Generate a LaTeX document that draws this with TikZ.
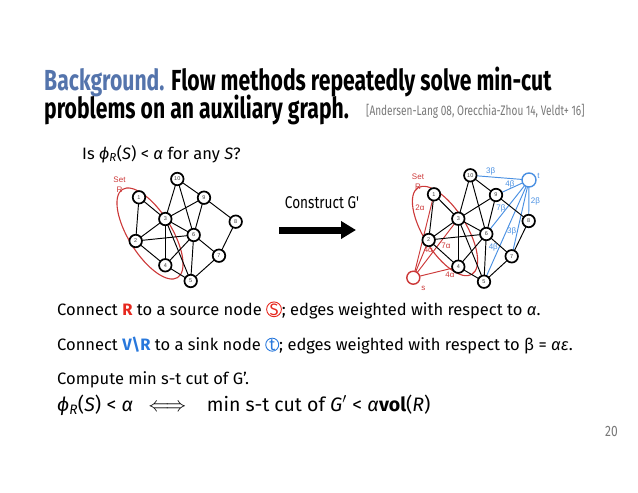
\documentclass[tikz,border=0pt]{standalone}
\usepackage{fontspec}
\setmainfont{Fira Sans}
\newfontfamily\titlefont[FakeStretch=0.73]{Fira Sans}
\newfontfamily\condfont[FakeStretch=0.8]{Fira Sans}
\newfontfamily\arialfont{Liberation Sans}
\usetikzlibrary{arrows.meta}
\definecolor{titleblue}{RGB}{84,116,172}
\definecolor{cutred}{RGB}{204,56,56}
\definecolor{sinkblue}{RGB}{74,144,226}
\definecolor{brightred}{RGB}{230,40,30}
\definecolor{vblue}{RGB}{40,120,220}
\definecolor{citegray}{RGB}{120,120,120}
\newcommand{\circledletter}[2]{\tikz[baseline=(cl.base)]\node[circle, draw=#1, text=#1, line width=0.9pt, inner sep=0pt, minimum size=13pt] (cl) {#2};}
\tikzset{
  gnode/.style={circle, draw=black, line width=1.7pt, fill=white, minimum size=12.5pt, inner sep=0pt,
    text=black!75, font=\arialfont\fontsize{5.5}{5.5}\selectfont},
  gedge/.style={black, line width=0.95pt},
  redge/.style={cutred, line width=0.95pt},
  bedge/.style={sinkblue, line width=0.95pt},
  rellipse/.style={cutred, line width=1.1pt},
  rlab/.style={text=cutred, inner sep=0pt, font=\arialfont\fontsize{8}{9.5}\selectfont},
  blab/.style={text=sinkblue, inner sep=0pt, font=\arialfont\fontsize{8}{9.5}\selectfont},
  bodytext/.style={anchor=base west, inner sep=0pt, font=\fontsize{16.5}{16.5}\selectfont},
  titletext/.style={anchor=base west, inner sep=0pt, font=\titlefont\bfseries\fontsize{29}{29}\selectfont},
}
\begin{document}
\begin{tikzpicture}[x=1pt,y=-1pt]
\useasboundingbox (0,0) rectangle (638,493);

% title
\node[titletext] (title1) at (44,90) {\textcolor{titleblue}{Background.} Flow methods repeatedly solve min-cut};
\node[titletext] (title2) at (44,118) {problems on an auxiliary graph.};
\node[anchor=base west, inner sep=0pt, text=citegray, font=\titlefont\fontsize{13.8}{13.8}\selectfont] (cite) at (366,115) {[Andersen-Lang 08, Orecchia-Zhou 14, Veldt+ 16]};

% question
\node[anchor=base west, inner sep=0pt, font=\fontsize{16.5}{16.5}\selectfont] (question) at (82,159)
  {Is {\itshape ϕ}\textsubscript{\itshape R}(\textit{S}) < \textit{α} for any \textit{S}?};

% left graph
\draw[rellipse, rotate around={-58:(150,233.5)}] (150,233.5) ellipse [x radius=52, y radius=21.5];
\node[rlab, align=center] (setRL) at (119.5,184.5) {Set\\R};
\coordinate (Q10) at (177.3,179);
\coordinate (Q1) at (139,197.3);
\coordinate (Q9) at (204,197.7);
\coordinate (Q3) at (165.3,219);
\coordinate (Q8) at (235.7,221.7);
\coordinate (Q6) at (193.7,235);
\coordinate (Q2) at (135.7,241);
\coordinate (Q7) at (219,255.7);
\coordinate (Q4) at (165.3,265.3);
\coordinate (Q5) at (190.7,281);
\foreach \a/\b in {10/3,10/9,10/6,1/3,1/2,9/3,9/6,9/8,3/2,3/6,3/4,3/5,2/6,2/4,6/4,6/5,6/7,8/7,7/5,4/5}
  \draw[gedge] (Q\a) -- (Q\b);
\foreach \n in {10,1,9,3,8,6,2,7,4,5}
  \node[gnode] (L\n) at (Q\n) {\n};

% arrow
\node[anchor=base, inner sep=0pt, font=\condfont\fontsize{17}{17}\selectfont] (construct) at (322,208) {Construct G'};
\coordinate (arrS) at (279,230);
\coordinate (arrE) at (356,230);
\draw[line width=7pt, -{Triangle[length=15pt,width=17pt]}] (arrS) -- (arrE);

% right graph
\draw[rellipse, rotate around={-58:(445,231)}] (445,231) ellipse [x radius=51, y radius=21.5];
\node[rlab, align=center] (setRR) at (418,181.7) {Set\\R};
\coordinate (P10) at (470.3,175.3);
\coordinate (Pt) at (529,180);
\coordinate (P1) at (434,194.3);
\coordinate (P9) at (496,195);
\coordinate (P3) at (458.3,218.7);
\coordinate (P8) at (528.7,221);
\coordinate (P6) at (486.3,234);
\coordinate (P2) at (428.7,240);
\coordinate (P7) at (511.7,256.3);
\coordinate (P4) at (458.3,266.7);
\coordinate (P5) at (484,281.7);
\coordinate (Ps) at (413.3,277.7);
\foreach \a in {1,2,3,4} \draw[redge] (Ps) -- (P\a);
\foreach \a in {10,9,8,6,7,5} \draw[bedge] (Pt) -- (P\a);
\foreach \a/\b in {10/3,10/9,10/6,1/3,1/2,9/3,9/6,9/8,3/2,3/6,3/4,3/5,2/6,2/4,6/4,6/5,6/7,8/7,7/5,4/5}
  \draw[gedge] (P\a) -- (P\b);
\foreach \n in {10,1,9,3,8,6,2,7,4,5}
  \node[gnode] (R\n) at (P\n) {\n};
\node[circle, draw=cutred, line width=1.4pt, fill=white, minimum size=13pt, inner sep=0pt] (Rs) at (Ps) {};
\node[circle, draw=sinkblue, line width=1.4pt, fill=white, minimum size=14pt, inner sep=0pt] (Rt) at (Pt) {};
\node[rlab] (slab) at (423.3,288) {s};
\node[blab] (tlab) at (538.5,176) {t};
% weights
\node[blab] (w10) at (490.7,171.7) {3β};
\node[blab] (w9) at (510,184.3) {4β};
\node[blab] (w8) at (535.5,201) {2β};
\node[blab] (w6) at (501,208.3) {7β};
\node[blab] (w7) at (511.7,231) {3β};
\node[blab] (w5) at (493.3,247.3) {4β};
\node[rlab] (w1) at (420,207.7) {2α};
\node[rlab] (w2) at (428.3,249.3) {4α};
\node[rlab] (w3) at (446,246) {7α};
\node[rlab] (w4) at (450,274.3) {4α};

% body text
\node[bodytext] (line1) at (57,315) {Connect \textcolor{brightred}{\bfseries R} to a source node \circledletter{brightred}{S}; edges weighted with respect to \textit{α}.};
\node[bodytext] (line2) at (57,350) {Connect \textcolor{vblue}{\bfseries V\textbackslash R} to a sink node \circledletter{vblue}{t}; edges weighted with respect to β = \textit{αε}.};
\node[bodytext] (line3) at (57,384) {Compute min s-t cut of G'.};
\node[anchor=base west, inner sep=0pt, font=\fontsize{19.5}{19.5}\selectfont] (line4) at (57,411)
  {{\itshape ϕ}\textsubscript{\itshape R}(\textit{S})\;<\;\textit{α}\enspace\;$\Longleftrightarrow$\enspace\; min s-t cut of \textit{G}$'$\;<\;\textit{α}\textbf{vol}(\textit{R})};
\node[anchor=base east, inner sep=0pt, text=citegray, font=\condfont\fontsize{15}{15}\selectfont] (pagenum) at (618,436) {20};
\end{tikzpicture}
\end{document}
